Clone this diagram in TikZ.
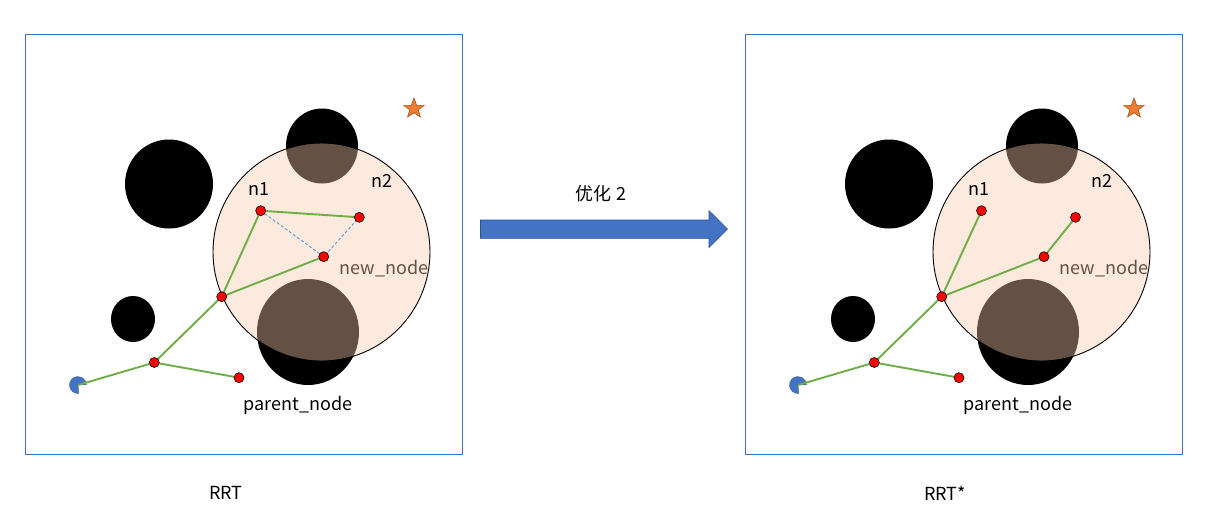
\documentclass[tikz,border=0pt]{standalone}
\usepackage{fontspec}
\setmainfont{Noto Sans CJK SC}
\begin{document}
\begin{tikzpicture}[x=1pt,y=-1pt,
  frame/.style={draw=frameblue,line width=0.8pt},
  obst/.style={fill=black},
  zone/.style={fill=zonefill,fill opacity=0.4,draw=black,line width=0.9pt,draw opacity=1},
  dot/.style={circle,fill=red,draw=black,line width=0.6pt,inner sep=0pt,minimum size=10pt},
  edge/.style={draw=edgegreen,line width=1.9pt},
  near/.style={draw=dashblue,line width=0.9pt,dash pattern=on 3pt off 2pt},
  lbl/.style={font=\fontsize{18}{21}\selectfont,inner sep=0pt},
  startc/.style={fill=startblue,draw=startedge,line width=0.3pt},
  goal/.style={fill=goalorange,draw=goaledge,line width=0.4pt}
]
\definecolor{frameblue}{HTML}{4472C4}
\definecolor{zonefill}{HTML}{F8CBAD}
\definecolor{edgegreen}{HTML}{70AD47}
\definecolor{dashblue}{HTML}{5B9BD5}
\definecolor{startblue}{HTML}{4472C4}
\definecolor{startedge}{HTML}{2F528F}
\definecolor{goalorange}{HTML}{ED7D31}
\definecolor{goaledge}{HTML}{AE5A21}
\definecolor{arrowedge}{HTML}{2F528F}
\useasboundingbox[fill=white] (0,0) rectangle (1210,523);

\foreach \dx/\pn in {0/L,720/R}{
  \begin{scope}[xshift=\dx pt]
    \draw[frame] (25,34) rectangle (462,454);
    % obstacles
    \fill[obst] (169,184) ellipse [x radius=44,y radius=44.5];
    \fill[obst] (322,146) ellipse [x radius=36,y radius=37.5];
    \fill[obst] (133,319) ellipse [x radius=22,y radius=23];
    \fill[obst] (308,332) ellipse [x radius=51,y radius=53];
    % label under the zone
    \node[lbl,anchor=center] (newlbl\pn) at (384,269) {new\_node};
    % zone
    \path[zone] (321.5,252) ellipse [x radius=108.5,y radius=109];
    % goal star
    \fill[goal] (414,98) -- (416.6,105.2) -- (424.2,105.3) -- (418.2,109.8) -- (420.4,117)
      -- (414,112.7) -- (407.6,117) -- (409.8,109.8) -- (403.8,105.3) -- (411.4,105.2) -- cycle;
    \draw[goal,fill=none] (414,98) -- (416.6,105.2) -- (424.2,105.3) -- (418.2,109.8) -- (420.4,117)
      -- (414,112.7) -- (407.6,117) -- (409.8,109.8) -- (403.8,105.3) -- (411.4,105.2) -- cycle;
    % start
    \coordinate (s\pn) at (78,385);
    \fill[startc] (s\pn) -- ++(85:8.5) arc[start angle=85,end angle=358,radius=8.5] -- cycle;
    % labels
    \node[lbl] (n1lbl\pn) at (259,189) {n1};
    \node[lbl] (n2lbl\pn) at (382,181) {n2};
    \node[lbl] (parlbl\pn) at (298,405) {parent\_node};
  \end{scope}
}

% left tree
\coordinate (aL) at (154.3,362.5);
\coordinate (bL) at (239,377.7);
\coordinate (cL) at (221.7,296.7);
\coordinate (n1L) at (260.7,210.7);
\coordinate (n2L) at (359.3,217.3);
\coordinate (nwL) at (323.7,256.7);
\draw[near] (n1L) -- (nwL) -- (n2L);
\draw[edge] (sL) -- (aL) -- (bL);
\draw[edge] (aL) -- (cL) -- (n1L) -- (n2L);
\draw[edge] (cL) -- (nwL);
\foreach \p in {aL,bL,cL,n1L,n2L,nwL}{\node[dot] at (\p) {};}

% right tree
\coordinate (aR) at (874.3,362.5);
\coordinate (bR) at (959,377.7);
\coordinate (cR) at (941.7,296.7);
\coordinate (n1R) at (981.5,210.7);
\coordinate (n2R) at (1075.5,217.3);
\coordinate (nwR) at (1044,256.7);
\draw[edge] (sR) -- (aR) -- (bR);
\draw[edge] (aR) -- (cR) -- (n1R);
\draw[edge] (cR) -- (nwR) -- (n2R);
\foreach \p in {aR,bR,cR,n1R,n2R,nwR}{\node[dot] at (\p) {};}

% arrow
\filldraw[fill=frameblue,draw=arrowedge,line width=0.6pt]
  (480.5,220) -- (709,220) -- (709,210.7) -- (727.5,229) -- (709,247.5) -- (709,238.3) -- (480.5,238.3) -- cycle;
\node[lbl] (opt) at (601,193.5) {优化 2};

\node[lbl] (rrt) at (226,493) {RRT};
\node[lbl] (rrts) at (945,493) {RRT*};
\end{tikzpicture}
\end{document}
